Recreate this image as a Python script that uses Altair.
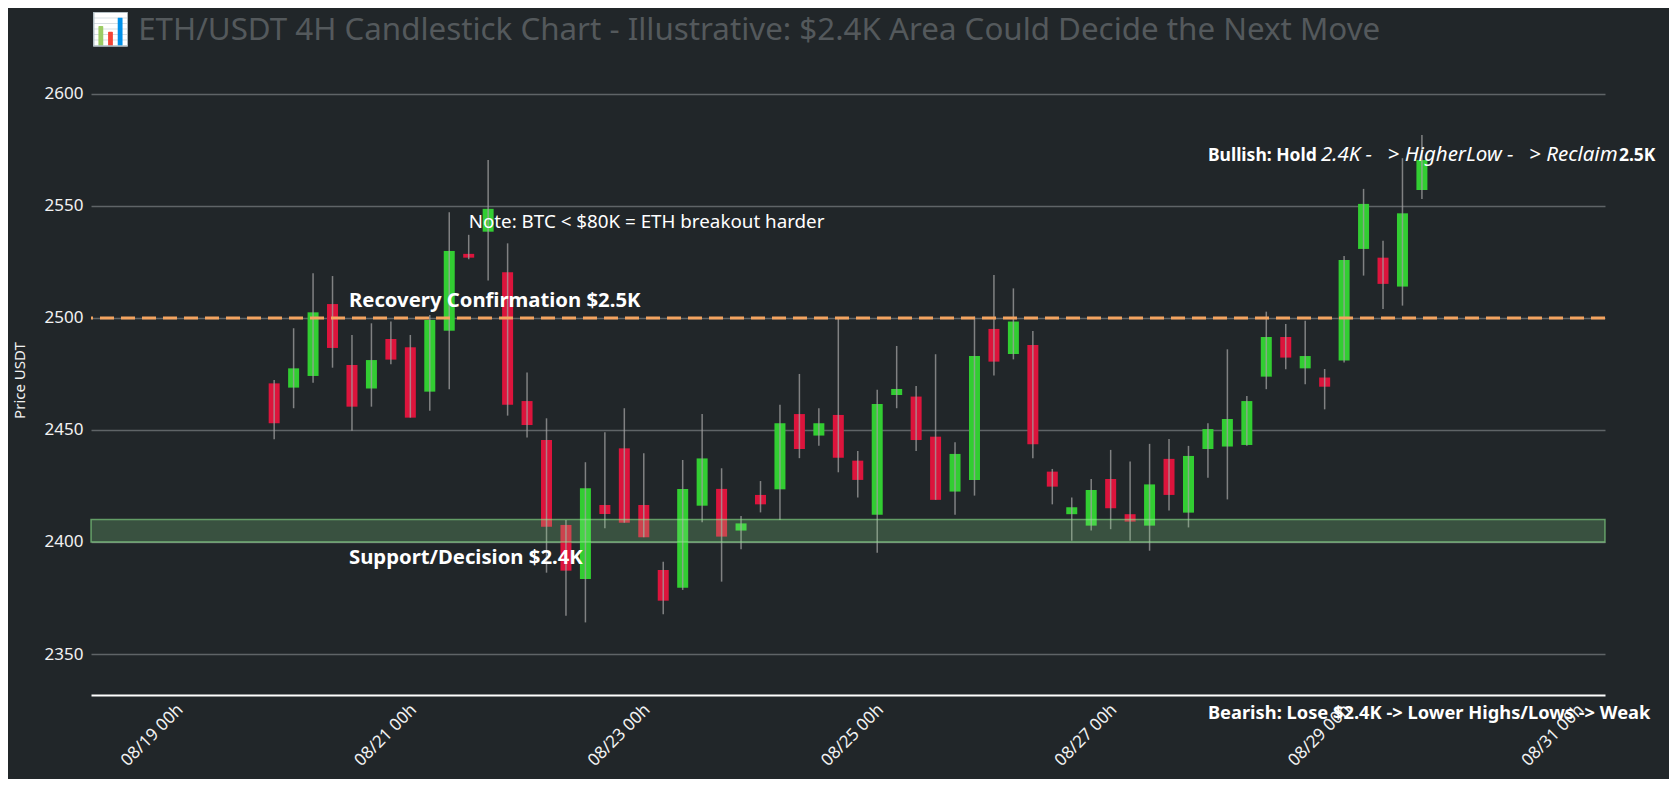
import altair as alt
import pandas as pd

# ---------------- data ----------------
times = [
    "2025-08-19T16:00", "2025-08-19T20:00",
    "2025-08-20T00:00", "2025-08-20T04:00", "2025-08-20T08:00", "2025-08-20T12:00", "2025-08-20T16:00", "2025-08-20T20:00",
    "2025-08-21T00:00", "2025-08-21T04:00", "2025-08-21T08:00", "2025-08-21T12:00", "2025-08-21T16:00", "2025-08-21T20:00",
    "2025-08-22T00:00", "2025-08-22T04:00", "2025-08-22T08:00", "2025-08-22T12:00", "2025-08-22T16:00", "2025-08-22T20:00",
    "2025-08-23T00:00", "2025-08-23T04:00", "2025-08-23T08:00", "2025-08-23T12:00", "2025-08-23T16:00", "2025-08-23T20:00",
    "2025-08-24T00:00", "2025-08-24T04:00", "2025-08-24T08:00", "2025-08-24T12:00", "2025-08-24T16:00", "2025-08-24T20:00",
    "2025-08-25T00:00", "2025-08-25T04:00", "2025-08-25T08:00", "2025-08-25T12:00", "2025-08-25T16:00", "2025-08-25T20:00",
    "2025-08-26T00:00", "2025-08-26T04:00", "2025-08-26T08:00", "2025-08-26T12:00", "2025-08-26T16:00", "2025-08-26T20:00",
    "2025-08-27T00:00", "2025-08-27T04:00", "2025-08-27T08:00", "2025-08-27T12:00", "2025-08-27T16:00", "2025-08-27T20:00",
    "2025-08-28T00:00", "2025-08-28T04:00", "2025-08-28T08:00", "2025-08-28T12:00", "2025-08-28T16:00", "2025-08-28T20:00",
    "2025-08-29T00:00", "2025-08-29T04:00", "2025-08-29T08:00", "2025-08-29T12:00",
]
opens = [2470.8, 2468.9, 2474.1, 2506.2, 2479.0, 2468.5, 2490.6, 2486.9, 2467.1, 2494.3,
         2528.6, 2538.5, 2520.4, 2462.9, 2445.5, 2407.6, 2383.5, 2416.5, 2441.8, 2416.5,
         2387.5, 2379.6, 2416.2, 2423.7, 2405.1, 2421.0, 2423.5, 2457.1, 2447.5, 2456.7,
         2436.3, 2412.1, 2465.6, 2464.9, 2447.0, 2422.5, 2427.7, 2495.1, 2483.9, 2487.9,
         2431.4, 2412.4, 2407.3, 2428.1, 2412.4, 2407.3, 2437.1, 2413.1, 2441.5, 2442.6,
         2443.3, 2473.8, 2491.5, 2477.5, 2473.4, 2481.0, 2530.8, 2526.9, 2514.0, 2557.1]
highs = [2472.3, 2495.4, 2519.9, 2518.7, 2492.4, 2497.6, 2498.4, 2492.4, 2501.3, 2547.2,
         2537.1, 2570.5, 2533.3, 2475.7, 2455.2, 2409.8, 2435.6, 2449.0, 2459.7, 2439.6,
         2391.2, 2436.6, 2457.1, 2432.9, 2411.6, 2427.2, 2461.2, 2475.0, 2459.7, 2499.9,
         2440.6, 2467.9, 2487.5, 2469.6, 2483.8, 2444.5, 2500.6, 2519.2, 2513.2, 2494.2,
         2432.6, 2419.8, 2428.1, 2441.1, 2435.9, 2443.8, 2446.0, 2442.9, 2453.0, 2486.0,
         2465.2, 2502.8, 2497.3, 2498.7, 2477.2, 2527.7, 2557.6, 2534.4, 2571.3, 2581.7]
lows = [2445.8, 2459.7, 2471.1, 2477.8, 2449.7, 2460.4, 2479.3, 2455.5, 2458.6, 2468.2,
        2526.2, 2516.7, 2456.4, 2446.6, 2386.3, 2367.1, 2364.1, 2406.1, 2408.6, 2402.1,
        2367.7, 2378.6, 2408.8, 2382.3, 2396.7, 2413.2, 2409.8, 2437.4, 2443.0, 2431.1,
        2419.8, 2395.2, 2459.7, 2440.6, 2418.8, 2412.1, 2420.7, 2474.3, 2481.5, 2437.4,
        2416.8, 2400.6, 2405.1, 2405.7, 2400.6, 2396.1, 2414.0, 2406.5, 2428.7, 2419.0,
        2443.0, 2468.2, 2477.1, 2470.4, 2459.2, 2480.1, 2518.9, 2504.0, 2505.5, 2553.1]
closes = [2453.0, 2477.5, 2502.5, 2486.6, 2460.4, 2481.2, 2481.4, 2455.5, 2499.1, 2529.9,
          2526.9, 2548.7, 2461.2, 2452.2, 2406.8, 2387.2, 2424.0, 2412.5, 2408.6, 2402.1,
          2373.8, 2423.7, 2437.3, 2402.4, 2408.3, 2416.8, 2453.0, 2441.5, 2453.0, 2437.6,
          2427.7, 2461.6, 2468.3, 2445.5, 2418.8, 2439.3, 2483.0, 2480.5, 2498.4, 2443.6,
          2424.7, 2415.5, 2423.2, 2415.0, 2409.1, 2425.7, 2421.0, 2438.4, 2450.4, 2454.9,
          2462.9, 2491.5, 2482.3, 2483.0, 2469.3, 2525.9, 2550.9, 2515.2, 2546.7, 2570.5]

y_ticks = [2350, 2400, 2450, 2500, 2550, 2600]
x_tick_days = [19, 21, 23, 25, 27, 29, 31]

support_low, support_high = [2400], [2410]
recovery_level = [2500]

title_text = "📊 ETH/USDT 4H Candlestick Chart - Illustrative: $2.4K Area Could Decide the Next Move"

note_text = ["Note: BTC < $80K = ETH breakout harder"]
note_t, note_y = ["2025-08-21T08:00"], [2540]
level_texts = ["Recovery Confirmation $2.5K", "Support/Decision $2.4K"]
level_t, level_y = ["2025-08-20T08:00", "2025-08-20T08:00"], [2505, 2390]
bull_parts = ["Bullish: Hold",
              "2.4K −\u2002 > HigherLow −\u2002 > Reclaim",
              "2.5K"]
bull_t, bull_y = ["2025-08-27T16:00"], [2570]
bear_text = ["Bearish: Lose $2.4K -> Lower Highs/Lows -> Weak"]
bear_t, bear_y = ["2025-08-27T16:00"], [2321]

# ---------------- style ----------------
FONT = "Noto Sans"
BG = "#212629"
GREEN = "#32cd32"
RED = "#dc143c"
W, H = 1514, 630

df = pd.DataFrame({"t": times, "open": opens, "high": highs, "low": lows, "close": closes})

x_dom = [alt.DateTime(year=2025, month=8, date=18, hours=3, minutes=22),
         alt.DateTime(year=2025, month=8, date=31, hours=0, minutes=37)]
xscale = alt.Scale(type="time", domain=x_dom, nice=False)
yscale = alt.Scale(domain=[2331.7, 2612.9], nice=False, zero=False)

x_axis = alt.Axis(
    values=[alt.DateTime(year=2025, month=8, date=d, hours=0) for d in x_tick_days],
    format="%m/%d %Hh", labelAngle=-45, labelAlign="right", labelBaseline="top",
    labelColor="#f2f2f2", labelFontSize=17, labelFont=FONT, labelPadding=6,
    labelOffset=-22, tickSize=0, domainColor="#ffffff", domainWidth=2, grid=False,
    title=None, labelOverlap=False,
)
y_axis = alt.Axis(
    values=y_ticks, format="d", labelColor="#f2f2f2", labelFontSize=17, labelFont=FONT,
    labelPadding=8, tickSize=0, domain=False, grid=True, gridColor="#5f6467",
    gridWidth=1.5, title="Price USDT", titleColor="#f2f2f2", titleFont=FONT,
    titleFontSize=15, titleFontWeight="normal", titleX=-72, titleY=H / 2,
    titleAngle=270, titleAlign="center", titleBaseline="middle",
)

base = alt.Chart(df).encode(x=alt.X("t:T", scale=xscale, axis=x_axis))

bodies = base.mark_bar(size=11).transform_calculate(
    dir="datum.close >= datum.open ? 'up' : 'down'"
).encode(
    y=alt.Y("open:Q", scale=yscale, axis=y_axis),
    y2="close:Q",
    color=alt.Color("dir:N", scale=alt.Scale(domain=["up", "down"], range=[GREEN, RED]), legend=None),
)

wicks = base.mark_rule(color="#a0a0a0", strokeWidth=1.5, opacity=0.75).encode(
    y=alt.Y("low:Q", scale=yscale), y2="high:Q"
)

band = alt.Chart(pd.DataFrame({"lo": support_low, "hi": support_high})).mark_rect(
    fill="#90ee90", fillOpacity=0.22, stroke="#90ee90", strokeOpacity=0.55, strokeWidth=1.5
).encode(y=alt.Y("lo:Q", scale=yscale), y2="hi:Q")

recovery = alt.Chart(pd.DataFrame({"y": recovery_level})).mark_rule(
    color="#f4a460", strokeWidth=3, strokeDash=[14, 7]
).encode(y=alt.Y("y:Q", scale=yscale))


def text_layer(texts, ts, ys, size, weight="normal", style="normal", dx=0):
    d = pd.DataFrame({"label": texts, "t": ts, "y": ys})
    return alt.Chart(d).mark_text(
        align="left", baseline="alphabetic", font=FONT, fontSize=size,
        fontWeight=weight, fontStyle=style, color="#ffffff", dx=dx,
    ).encode(
        x=alt.X("t:T", scale=xscale), y=alt.Y("y:Q", scale=yscale), text="label:N"
    )


note = text_layer(note_text, note_t, note_y, 18.8)
levels = text_layer(level_texts, level_t, level_y, 20.3, weight="bold", dx=-3)
bull1 = text_layer([bull_parts[0]], bull_t, bull_y, 17.5, weight="bold")
bull2 = text_layer([bull_parts[1]], bull_t, bull_y, 20.5, style="italic", dx=113)
bull3 = text_layer([bull_parts[2]], bull_t, bull_y, 17.5, weight="bold", dx=411)
bear = text_layer(bear_text, bear_t, bear_y, 18.3, weight="bold")

chart = alt.layer(
    bodies, wicks, band, recovery, note, levels, bull1, bull2, bull3, bear
).properties(
    width=W, height=H,
    title=alt.TitleParams(
        title_text, anchor="start", frame="group", fontSize=31.3, font=FONT,
        fontWeight="normal", color="#54595c", baseline="alphabetic", offset=25, dy=31,
    ),
    background=BG,
    padding={"left": 83, "top": 57, "right": 64, "bottom": 84},
    autosize=alt.AutoSizeParams(type="none"),
).configure_view(stroke=None)

chart.save("out.html", embed_options={"renderer": "svg", "actions": False})
